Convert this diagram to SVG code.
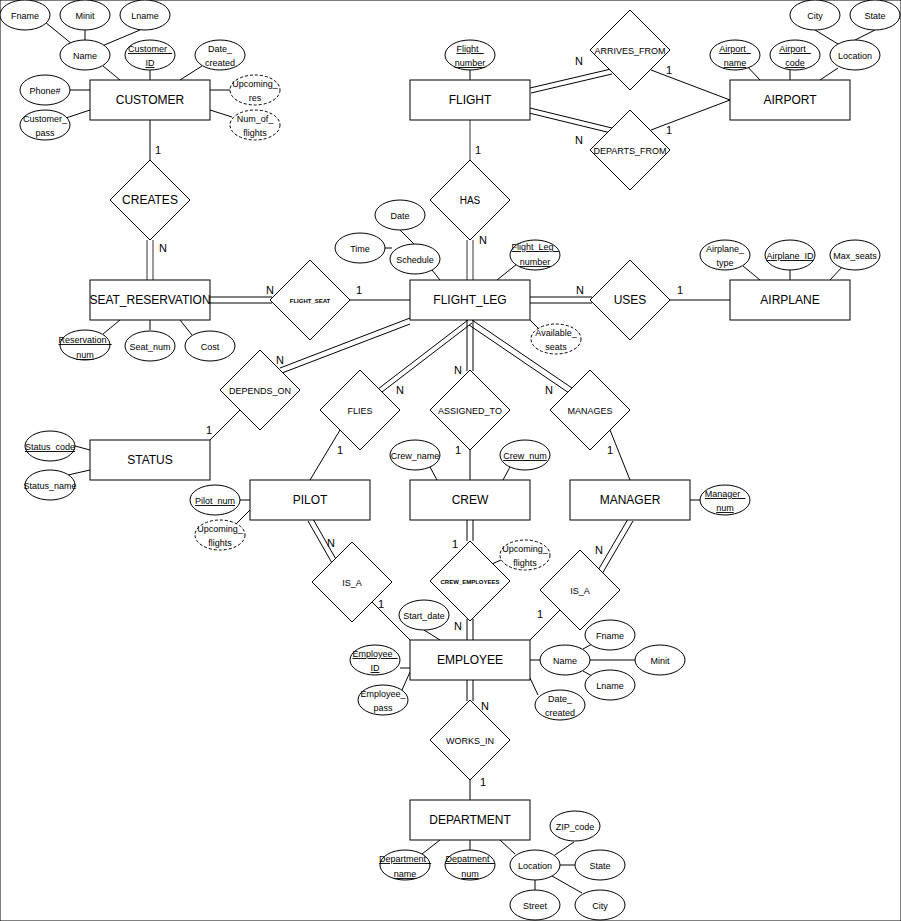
<svg xmlns="http://www.w3.org/2000/svg" width="901" height="921" viewBox="0 0 901 921">
<style>
rect,polygon,ellipse{fill:#fff;stroke:#000;stroke-width:1}
.d{stroke-dasharray:3,2}
line{stroke:#000;stroke-width:1}
text{font-family:"Liberation Sans",Arial,sans-serif;fill:#000;text-anchor:middle}
.e{font-size:12px}
.r{font-size:10px}
.a{font-size:9px}
.k{text-decoration:underline}
.c{font-size:11px;text-anchor:start}
</style>
<rect width="901" height="921" fill="#fff" stroke="none"/>
<g id="connectors">
<line x1="45" y1="22" x2="72" y2="44"/><line x1="85" y1="30" x2="85" y2="40"/><line x1="140" y1="30" x2="102" y2="46"/>
<line x1="103" y1="66" x2="120" y2="80"/><line x1="150" y1="70" x2="150" y2="80"/><line x1="202" y1="66" x2="180" y2="80"/>
<line x1="70" y1="90" x2="90" y2="90"/><line x1="66" y1="118" x2="90" y2="110"/><line x1="210" y1="90" x2="230" y2="90"/><line x1="210" y1="110" x2="232" y2="117"/>
<line x1="470" y1="70" x2="470" y2="80"/><line x1="745" y1="64" x2="760" y2="80"/><line x1="790" y1="70" x2="790" y2="80"/><line x1="838" y1="68" x2="820" y2="80"/>
<line x1="815" y1="30" x2="838" y2="44"/><line x1="875" y1="30" x2="855" y2="40"/>
<line x1="400" y1="230" x2="415" y2="245"/><line x1="385" y1="248" x2="392" y2="248"/><line x1="432" y1="270" x2="440" y2="280"/><line x1="517" y1="264" x2="497" y2="280"/><line x1="530" y1="320" x2="540" y2="330"/>
<line x1="743" y1="266" x2="760" y2="280"/><line x1="790" y1="270" x2="790" y2="280"/><line x1="844" y1="265" x2="830" y2="280"/>
<line x1="120" y1="320" x2="103" y2="334"/><line x1="150" y1="320" x2="150" y2="330"/><line x1="180" y1="320" x2="192" y2="335"/>
<line x1="75" y1="446" x2="90" y2="450"/><line x1="68" y1="475" x2="90" y2="470"/>
<line x1="430" y1="467" x2="437" y2="480"/><line x1="510" y1="467" x2="503" y2="480"/>
<line x1="240" y1="500" x2="250" y2="500"/><line x1="236" y1="524" x2="250" y2="510"/><line x1="690" y1="500" x2="700" y2="500"/>
<line x1="501" y1="560" x2="492" y2="564"/>
<line x1="424" y1="630" x2="440" y2="640"/><line x1="400" y1="668" x2="410" y2="668"/><line x1="402" y1="690" x2="410" y2="672"/>
<line x1="530" y1="660" x2="540" y2="660"/><line x1="530" y1="678" x2="538" y2="695"/><line x1="590" y1="660" x2="635" y2="660"/><line x1="583" y1="649" x2="592" y2="644"/><line x1="583" y1="671" x2="592" y2="676"/>
<line x1="440" y1="840" x2="422" y2="854"/><line x1="470" y1="840" x2="470" y2="850"/><line x1="500" y1="840" x2="515" y2="854"/>
<line x1="555" y1="855" x2="574" y2="842"/><line x1="560" y1="865" x2="575" y2="865"/><line x1="535" y1="880" x2="535" y2="890"/><line x1="552" y1="876" x2="582" y2="893"/>
<line x1="150" y1="120" x2="150" y2="160"/>
<line x1="147" y1="240" x2="147" y2="280" style="stroke:#777;stroke-width:1.5"/><line x1="153" y1="240" x2="153" y2="280" style="stroke:#777;stroke-width:1.5"/>
<line x1="470" y1="120" x2="470" y2="160" style="stroke:#777;stroke-width:1.5"/>
<line x1="467" y1="240" x2="467" y2="280" style="stroke:#777;stroke-width:1.5"/><line x1="473" y1="240" x2="473" y2="280" style="stroke:#777;stroke-width:1.5"/>
<line x1="530" y1="88" x2="611" y2="69"/><line x1="531" y1="93" x2="612" y2="74"/>
<line x1="651" y1="70" x2="730" y2="100"/>
<line x1="530" y1="108" x2="612" y2="128"/><line x1="529" y1="113" x2="611" y2="133"/>
<line x1="651" y1="130" x2="730" y2="100"/>
<line x1="210" y1="297" x2="272" y2="297"/><line x1="210" y1="303" x2="272" y2="303"/>
<line x1="350" y1="300" x2="410" y2="300"/>
<line x1="530" y1="297" x2="592" y2="297"/><line x1="530" y1="303" x2="592" y2="303"/>
<line x1="670" y1="300" x2="730" y2="300"/>
<line x1="410" y1="318" x2="280" y2="368"/><line x1="410" y1="324" x2="282" y2="373"/>
<line x1="240" y1="410" x2="210" y2="440"/>
<line x1="468" y1="320" x2="378" y2="389"/><line x1="472" y1="323" x2="382" y2="392"/>
<line x1="340" y1="430" x2="310" y2="480"/>
<line x1="467" y1="320" x2="467" y2="371"/><line x1="473" y1="320" x2="473" y2="371"/>
<line x1="470" y1="450" x2="470" y2="480"/>
<line x1="472" y1="320" x2="572" y2="388"/><line x1="469" y1="325" x2="569" y2="393"/>
<line x1="610" y1="430" x2="630" y2="480"/>
<line x1="308" y1="521" x2="332" y2="563"/><line x1="313" y1="519" x2="337" y2="561"/>
<line x1="370" y1="600" x2="410" y2="640"/>
<line x1="467" y1="520" x2="467" y2="541"/><line x1="473" y1="520" x2="473" y2="541"/>
<line x1="467" y1="619" x2="467" y2="640"/><line x1="473" y1="619" x2="473" y2="640"/>
<line x1="628" y1="519" x2="597" y2="572"/><line x1="633" y1="521" x2="602" y2="574"/>
<line x1="560" y1="610" x2="530" y2="640"/>
<line x1="467" y1="680" x2="467" y2="701"/><line x1="473" y1="680" x2="473" y2="701"/>
<line x1="470" y1="780" x2="470" y2="800"/>
</g>
<g id="labels">
<text class="c" x="155" y="154">1</text><text class="c" x="159" y="252">N</text>
<text class="c" x="475" y="154">1</text><text class="c" x="479" y="244">N</text>
<text class="c" x="575" y="65">N</text><text class="c" x="666" y="74">1</text>
<text class="c" x="575" y="144">N</text><text class="c" x="666" y="134">1</text>
<text class="c" x="266" y="294">N</text><text class="c" x="356" y="294">1</text>
<text class="c" x="576" y="294">N</text><text class="c" x="677" y="294">1</text>
<text class="c" x="276" y="364">N</text><text class="c" x="206" y="434">1</text>
<text class="c" x="396" y="394">N</text><text class="c" x="337" y="454">1</text>
<text class="c" x="454" y="374">N</text><text class="c" x="455" y="454">1</text>
<text class="c" x="545" y="394">N</text><text class="c" x="607" y="454">1</text>
<text class="c" x="327" y="547">N</text><text class="c" x="378" y="608">1</text>
<text class="c" x="452" y="548">1</text><text class="c" x="454" y="630">N</text>
<text class="c" x="595" y="554">N</text><text class="c" x="537" y="618">1</text>
<text class="c" x="481" y="710">N</text><text class="c" x="480" y="786">1</text>
</g>
<g id="CUSTOMER"><rect x="90" y="80" width="120" height="40"/><text class="e" x="150" y="104">CUSTOMER</text></g>
<g id="FLIGHT"><rect x="410" y="80" width="120" height="40"/><text class="e" x="470" y="104">FLIGHT</text></g>
<g id="AIRPORT"><rect x="730" y="80" width="120" height="40"/><text class="e" x="790" y="104">AIRPORT</text></g>
<g id="SEAT_RESERVATION"><rect x="90" y="280" width="120" height="40"/><text class="e" x="150" y="304">SEAT_RESERVATION</text></g>
<g id="FLIGHT_LEG"><rect x="410" y="280" width="120" height="40"/><text class="e" x="470" y="304">FLIGHT_LEG</text></g>
<g id="AIRPLANE"><rect x="730" y="280" width="120" height="40"/><text class="e" x="790" y="304">AIRPLANE</text></g>
<g id="STATUS"><rect x="90" y="440" width="120" height="40"/><text class="e" x="150" y="464">STATUS</text></g>
<g id="PILOT"><rect x="250" y="480" width="120" height="40"/><text class="e" x="310" y="504">PILOT</text></g>
<g id="CREW"><rect x="410" y="480" width="120" height="40"/><text class="e" x="470" y="504">CREW</text></g>
<g id="MANAGER"><rect x="570" y="480" width="120" height="40"/><text class="e" x="630" y="504">MANAGER</text></g>
<g id="EMPLOYEE"><rect x="410" y="640" width="120" height="40"/><text class="e" x="470" y="664">EMPLOYEE</text></g>
<g id="DEPARTMENT"><rect x="410" y="800" width="120" height="40"/><text class="e" x="470" y="824">DEPARTMENT</text></g>
<g id="CREATES"><polygon points="150,160 190,200 150,240 110,200"/><text class="e" x="150" y="204">CREATES</text></g>
<g id="HAS"><polygon points="470,160 510,200 470,240 430,200"/><text class="r" x="470" y="204">HAS</text></g>
<g id="ARRIVES_FROM"><polygon points="630,10 670,50 630,90 590,50"/><text class="a" x="630" y="54">ARRIVES_FROM</text></g>
<g id="DEPARTS_FROM"><polygon points="630,110 670,150 630,190 590,150"/><text class="a" x="630" y="154">DEPARTS_FROM</text></g>
<g id="FLIGHT_SEAT"><polygon points="310,260 350,300 310,340 270,300"/><text x="310" y="303" style="font-size:6px;font-weight:bold">FLIGHT_SEAT</text></g>
<g id="USES"><polygon points="630,260 670,300 630,340 590,300"/><text class="e" x="630" y="304">USES</text></g>
<g id="DEPENDS_ON"><polygon points="260,350 300,390 260,430 220,390"/><text class="a" x="260" y="394">DEPENDS_ON</text></g>
<g id="FLIES"><polygon points="360,370 400,410 360,450 320,410"/><text class="a" x="360" y="414">FLIES</text></g>
<g id="ASSIGNED_TO"><polygon points="470,370 510,410 470,450 430,410"/><text class="a" x="470" y="414">ASSIGNED_TO</text></g>
<g id="MANAGES"><polygon points="590,370 630,410 590,450 550,410"/><text class="a" x="590" y="414">MANAGES</text></g>
<g id="IS_A_PILOT"><polygon points="352,542 392,582 352,622 312,582"/><text class="a" x="352" y="586">IS_A</text></g>
<g id="CREW_EMPLOYEES"><polygon points="470,541 510,581 470,621 430,581"/><text x="470" y="584" style="font-size:6px;font-weight:bold">CREW_EMPLOYEES</text></g>
<g id="IS_A_MANAGER"><polygon points="580,550 620,590 580,630 540,590"/><text class="a" x="580" y="594">IS_A</text></g>
<g id="WORKS_IN"><polygon points="470,700 510,740 470,780 430,740"/><text class="a" x="470" y="744">WORKS_IN</text></g>
<g id="attributes">
<ellipse cx="25" cy="15" rx="25" ry="15"/><text class="a" x="25" y="19">Fname</text>
<ellipse cx="85" cy="15" rx="25" ry="15"/><text class="a" x="85" y="19">Minit</text>
<ellipse cx="145" cy="15" rx="25" ry="15"/><text class="a" x="145" y="19">Lname</text>
<ellipse cx="85" cy="55" rx="25" ry="15"/><text class="a" x="85" y="59">Name</text>
<ellipse cx="150" cy="55" rx="25" ry="15"/><text class="a k" x="150" y="52">Customer_</text><text class="a k" x="150" y="66">ID</text>
<ellipse cx="220" cy="55" rx="25" ry="15"/><text class="a" x="220" y="52">Date_</text><text class="a" x="220" y="66">created</text>
<ellipse cx="45" cy="90" rx="25" ry="15"/><text class="a" x="45" y="94">Phone#</text>
<ellipse cx="45" cy="125" rx="25" ry="15"/><text class="a" x="45" y="122">Customer_</text><text class="a" x="45" y="136">pass</text>
<ellipse class="d" cx="255" cy="90" rx="25" ry="15"/><text class="a" x="255" y="87">Upcoming_</text><text class="a" x="255" y="101">res</text>
<ellipse class="d" cx="255" cy="125" rx="25" ry="15"/><text class="a" x="255" y="122">Num_of_</text><text class="a" x="255" y="136">flights</text>
<ellipse cx="470" cy="55" rx="25" ry="15"/><text class="a k" x="470" y="52">Flight_</text><text class="a k" x="470" y="66">number</text>
<ellipse cx="735" cy="55" rx="25" ry="15"/><text class="a k" x="735" y="52">Airport_</text><text class="a k" x="735" y="66">name</text>
<ellipse cx="795" cy="55" rx="25" ry="15"/><text class="a k" x="795" y="52">Airport_</text><text class="a k" x="795" y="66">code</text>
<ellipse cx="855" cy="55" rx="25" ry="15"/><text class="a" x="855" y="59">Location</text>
<ellipse cx="815" cy="15" rx="25" ry="15"/><text class="a" x="815" y="19">City</text>
<ellipse cx="875" cy="15" rx="25" ry="15"/><text class="a" x="875" y="19">State</text>
<ellipse cx="400" cy="215" rx="25" ry="15"/><text class="a" x="400" y="219">Date</text>
<ellipse cx="360" cy="248" rx="25" ry="15"/><text class="a" x="360" y="252">Time</text>
<ellipse cx="415" cy="259" rx="25" ry="15"/><text class="a" x="415" y="263">Schedule</text>
<ellipse cx="535" cy="255" rx="25" ry="15"/><text class="a k" x="535" y="250">Flight_Leg_</text><text class="a k" x="535" y="265">number</text>
<ellipse class="d" cx="556" cy="339" rx="25" ry="15"/><text class="a" x="556" y="336">Available_</text><text class="a" x="556" y="350">seats</text>
<ellipse cx="725" cy="255" rx="25" ry="15"/><text class="a" x="725" y="252">Airplane_</text><text class="a" x="725" y="266">type</text>
<ellipse cx="790" cy="255" rx="25" ry="15"/><text class="a k" x="790" y="259">Airplane_ID</text>
<ellipse cx="855" cy="255" rx="25" ry="15"/><text class="a" x="855" y="259">Max_seats</text>
<ellipse cx="85" cy="345" rx="25" ry="15"/><text class="a k" x="85" y="343">Reservation_</text><text class="a k" x="85" y="358">num</text>
<ellipse cx="150" cy="346" rx="25" ry="15"/><text class="a" x="150" y="350">Seat_num</text>
<ellipse cx="210" cy="346" rx="25" ry="15"/><text class="a" x="210" y="350">Cost</text>
<ellipse cx="50" cy="446" rx="25" ry="15"/><text class="a k" x="50" y="450">Status_code</text>
<ellipse cx="50" cy="485" rx="25" ry="15"/><text class="a" x="50" y="489">Status_name</text>
<ellipse cx="415" cy="455" rx="25" ry="15"/><text class="a" x="415" y="459">Crew_name</text>
<ellipse cx="525" cy="455" rx="25" ry="15"/><text class="a k" x="525" y="459">Crew_num</text>
<ellipse cx="215" cy="500" rx="25" ry="15"/><text class="a k" x="215" y="504">Pilot_num</text>
<ellipse class="d" cx="220" cy="535" rx="25" ry="15"/><text class="a" x="220" y="532">Upcoming_</text><text class="a" x="220" y="546">flights</text>
<ellipse cx="725" cy="500" rx="25" ry="15"/><text class="a k" x="725" y="497">Manager_</text><text class="a k" x="725" y="511">num</text>
<ellipse class="d" cx="525" cy="555" rx="25" ry="15"/><text class="a" x="525" y="552">Upcoming_</text><text class="a" x="525" y="566">flights</text>
<ellipse cx="424" cy="615" rx="25" ry="15"/><text class="a" x="424" y="619">Start_date</text>
<ellipse cx="375" cy="660" rx="25" ry="15"/><text class="a k" x="375" y="657">Employee_</text><text class="a k" x="375" y="671">ID</text>
<ellipse cx="383" cy="700" rx="25" ry="15"/><text class="a" x="383" y="697">Employee_</text><text class="a" x="383" y="711">pass</text>
<ellipse cx="565" cy="660" rx="25" ry="15"/><text class="a" x="565" y="664">Name</text>
<ellipse cx="610" cy="635" rx="25" ry="15"/><text class="a" x="610" y="639">Fname</text>
<ellipse cx="660" cy="660" rx="25" ry="15"/><text class="a" x="660" y="664">Minit</text>
<ellipse cx="610" cy="685" rx="25" ry="15"/><text class="a" x="610" y="689">Lname</text>
<ellipse cx="560" cy="705" rx="25" ry="15"/><text class="a" x="560" y="702">Date_</text><text class="a" x="560" y="716">created</text>
<ellipse cx="405" cy="865" rx="25" ry="15"/><text class="a k" x="405" y="862">Department_</text><text class="a k" x="405" y="877">name</text>
<ellipse cx="470" cy="865" rx="25" ry="15"/><text class="a k" x="470" y="862">Depatment_</text><text class="a k" x="470" y="877">num</text>
<ellipse cx="535" cy="865" rx="25" ry="15"/><text class="a" x="535" y="869">Location</text>
<ellipse cx="575" cy="826" rx="25" ry="15"/><text class="a" x="575" y="830">ZIP_code</text>
<ellipse cx="600" cy="865" rx="25" ry="15"/><text class="a" x="600" y="869">State</text>
<ellipse cx="535" cy="905" rx="25" ry="15"/><text class="a" x="535" y="909">Street</text>
<ellipse cx="600" cy="905" rx="25" ry="15"/><text class="a" x="600" y="909">City</text>
</g>
</svg>
